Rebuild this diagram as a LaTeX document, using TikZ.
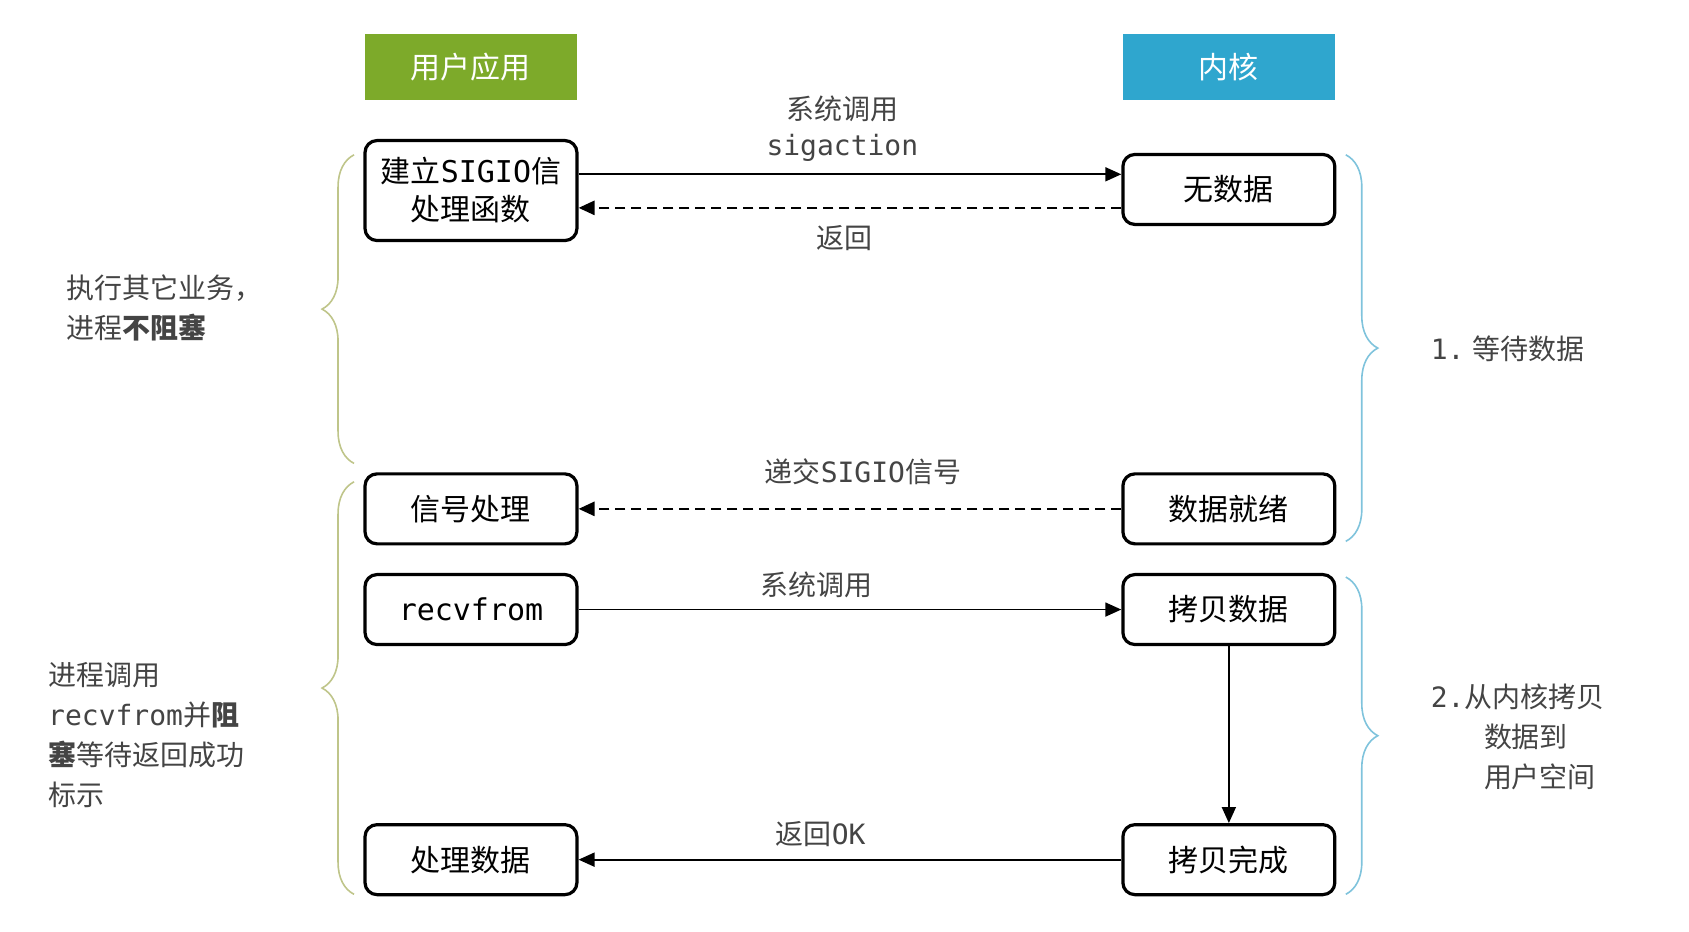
\documentclass[tikz,border=0pt]{standalone}
\usepackage{fontspec}
\setmainfont{Noto Sans CJK SC}
\newfontfamily\mono{DejaVu Sans Mono}
\usetikzlibrary{decorations.pathreplacing,arrows.meta}
\definecolor{usergreen}{HTML}{7DAA2A}
\definecolor{kernblue}{HTML}{2FA6CE}
\definecolor{lgreen}{HTML}{BFC58A}
\definecolor{lblue}{HTML}{7FC3DC}
\definecolor{txt}{HTML}{444444}
\tikzset{
  box/.style={draw, line width=1.6pt, rounded corners=6pt, minimum width=106pt, minimum height=35pt, align=center, font=\fontsize{15}{19}\selectfont},
  head/.style={minimum width=106pt, minimum height=33pt, text=white, font=\fontsize{15}{18}\selectfont},
  lab/.style={text=txt, font=\fontsize{14}{20}\selectfont, align=left},
  call/.style={-{Triangle[length=8pt,width=7pt]}, line width=0.9pt},
  back/.style={call, dashed, line width=1.3pt, dash pattern=on 5pt off 3pt},
  brc/.style={decorate, decoration={brace, amplitude=16pt}, line width=0.8pt}
}
\begin{document}
\begin{tikzpicture}[x=0.5415pt,y=-0.5415pt]
\useasboundingbox (0,0) rectangle (1560,860);

\node[head, fill=usergreen] (user) at (435,62) {用户应用};
\node[head, fill=kernblue] (kern) at (1135,62) {内核};

% user side
\node[box, minimum height=50pt, inner sep=2pt] (setup) at (435,176) {建立{\mono SIGIO}信\\处理函数};
\node[box] (sig) at (435,470) {信号处理};
\node[box] (recv) at (435,563) {\mono recvfrom};
\node[box] (proc) at (435,794) {处理数据};

% kernel side
\node[box] (nodata) at (1135,175) {无数据};
\node[box] (ready) at (1135,470) {数据就绪};
\node[box] (copy) at (1135,563) {拷贝数据};
\node[box] (done) at (1135,794) {拷贝完成};

\draw[call] (setup.east |- 0,161) -- (nodata.west |- 0,161);
\draw[back] (nodata.west |- 0,192) -- (setup.east |- 0,192);
\draw[back] (ready) -- (sig);
\draw[call] (recv) -- (copy);
\draw[call] (copy) -- (done);
\draw[call] (done) -- (proc);

\node[lab, align=center] at (778,119) {系统调用\\[-2pt]{\mono sigaction}};
\node[lab] at (780,220) {返回};
\node[lab] at (797,436) {递交{\mono SIGIO}信号};
\node[lab] at (754,540) {系统调用};
\node[lab] at (758,770) {返回{\mono OK}};

% braces
\draw[brc, lgreen] (327,428) -- (327,143);
\draw[brc, lgreen] (327,826) -- (327,445);
\draw[brc, lblue] (1243,143) -- (1243,500);
\draw[brc, lblue] (1243,533) -- (1243,826);

\node[lab, anchor=west] at (55,284) {执行其它业务，\\进程\textbf{不阻塞}};
\node[lab, anchor=west] at (38,679) {进程调用\\{\mono recvfrom}并\textbf{阻}\\\textbf{塞}等待返回成功\\标示};
\node[lab, anchor=west] at (1315,322) {{\mono 1.} 等待数据};
\node[lab, anchor=north west] at (1315,625) {{\mono 2.}从内核拷贝\\\hspace*{1.9em}数据到\\\hspace*{1.9em}用户空间};
\end{tikzpicture}
\end{document}
